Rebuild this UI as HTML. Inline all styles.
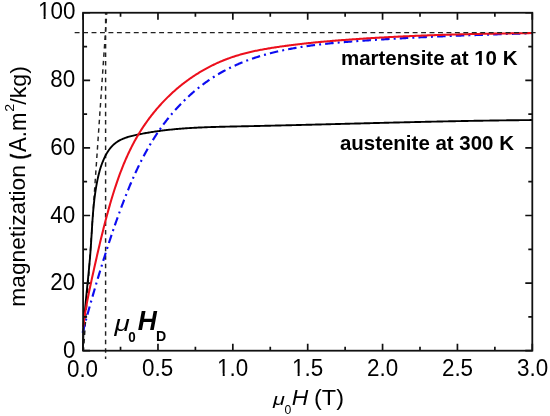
<!DOCTYPE html>
<html><head><meta charset="utf-8"><title>Magnetization curves</title><style>
html,body{margin:0;padding:0;background:#fff;}
body{width:550px;height:416px;position:relative;overflow:hidden;font-family:"Liberation Sans",Arial,sans-serif;color:#000;}
svg{position:absolute;left:0;top:0;}
#t div{position:absolute;left:0;top:0;line-height:1;white-space:nowrap;transform-origin:0 0;}
.o1{display:inline-block;clip-path:polygon(-1em -1em,2em -1em,2em 0.70em,0.34em 0.70em,0.34em 2em,0.251em 2em,0.251em 0.70em,-1em 0.70em)} .o1b{display:inline-block;clip-path:polygon(-1em -1em,2em -1em,2em 0.67em,0.3706em 0.67em,0.3706em 2em,0.2334em 2em,0.2334em 0.67em,-1em 0.67em)}
</style></head><body>
<div id="wrap" style="position:absolute;left:0;top:0;width:550px;height:416px;filter:blur(0.35px)">
<svg width="550" height="416" viewBox="0 0 550 416">
<g fill="none">
<path d="M105.6,12.75V359" stroke="#222" stroke-width="1.45" stroke-dasharray="4.5,3.947" stroke-dashoffset="2.487"/>
<path d="M106.8,12.75L83.5,350.7" stroke="#222" stroke-width="1.45" stroke-dasharray="4.5,3.947" stroke-dashoffset="2.487"/>
<path d="M83.05,350.69 83.05,349.63 83.05,348.58 83.06,347.53 83.07,346.47 83.08,345.42 83.10,344.36 83.12,343.31 83.14,342.25 83.17,341.20 83.20,340.14 83.23,339.09 83.26,338.04 83.30,336.98 83.34,335.93 83.38,334.87 83.43,333.82 83.47,332.77 83.52,331.71 83.58,330.66 83.63,329.60 83.69,328.55 83.75,327.50 83.81,326.44 83.87,325.39 83.94,324.34 84.01,323.28 84.08,322.23 84.15,321.17 84.22,320.12 84.30,319.07 84.37,318.01 84.45,316.96 84.53,315.91 84.62,314.85 84.70,313.80 84.79,312.75 84.87,311.69 84.96,310.64 85.05,309.59 85.14,308.53 85.23,307.48 85.33,306.43 85.42,305.37 85.52,304.32 85.61,303.27 85.71,302.21 85.81,301.16 85.91,300.11 86.01,299.06 86.11,298.00 86.21,296.95 86.31,295.90 86.42,294.84 86.52,293.79 86.62,292.74 86.73,291.68 86.83,290.63 86.94,289.58 87.04,288.53 87.15,287.47 87.25,286.42 87.36,285.37 87.46,284.32 87.57,283.26 87.67,282.21 87.78,281.16 87.89,280.10 87.99,279.05 88.10,278.00 88.20,276.95 88.30,275.89 88.41,274.84 88.51,273.79 88.61,272.74 88.72,271.68 88.82,270.63 88.92,269.58 89.02,268.53 89.12,267.47 89.22,266.42 89.31,265.37 89.41,264.32 89.50,263.26 89.60,262.21 89.69,261.16 89.78,260.11 89.87,259.06 89.96,258.00 90.05,256.95 90.14,255.90 90.22,254.85 90.31,253.79 90.39,252.74 90.47,251.69 90.55,250.64 90.63,249.58 90.70,248.53 90.78,247.48 90.85,246.43 90.92,245.38 90.99,244.32 91.06,243.27 91.12,242.22 91.19,241.17 91.26,240.11 91.32,239.06 91.39,238.01 91.45,236.96 91.51,235.91 91.58,234.86 91.64,233.80 91.70,232.75 91.77,231.70 91.83,230.65 91.90,229.60 91.96,228.55 92.02,227.50 92.09,226.45 92.16,225.40 92.22,224.35 92.29,223.29 92.36,222.24 92.43,221.19 92.50,220.14 92.58,219.09 92.65,218.05 92.73,217.00 92.81,215.95 92.89,214.90 92.97,213.85 93.06,212.80 93.14,211.75 93.23,210.70 93.32,209.66 93.42,208.61 93.52,207.56 93.62,206.51 93.72,205.47 93.82,204.42 93.93,203.37 94.05,202.33 94.16,201.28 94.28,200.23 94.40,199.19 94.53,198.14 94.66,197.10 94.80,196.05 94.93,195.01 95.08,193.96 95.22,192.92 95.38,191.88 95.53,190.83 95.69,189.79 95.86,188.75 96.03,187.71 96.20,186.66 96.38,185.62 96.57,184.58 96.76,183.54 96.95,182.50 97.16,181.46 97.36,180.42 97.58,179.38 97.80,178.34 98.03,177.31 98.26,176.27 98.51,175.24 98.76,174.21 99.02,173.18 99.29,172.15 99.57,171.12 99.86,170.10 100.16,169.08 100.47,168.06 100.79,167.05 101.13,166.04 101.48,165.04 101.84,164.03 102.21,163.04 102.60,162.04 103.00,161.05 103.41,160.07 103.84,159.09 104.29,158.12 104.75,157.15 105.22,156.19 105.71,155.24 106.22,154.30 106.75,153.38 107.30,152.46 107.86,151.57 108.44,150.69 109.04,149.83 109.66,148.98 110.30,148.16 110.95,147.37 111.63,146.59 112.33,145.85 113.06,145.13 113.80,144.43 114.56,143.77 115.35,143.14 116.16,142.54 116.99,141.97 117.83,141.43 118.70,140.91 119.58,140.42 120.48,139.95 121.40,139.51 122.33,139.08 123.27,138.68 124.23,138.30 125.20,137.94 126.18,137.60 127.17,137.27 128.17,136.95 129.18,136.66 130.20,136.37 131.23,136.10 132.26,135.84 133.29,135.59 134.33,135.35 135.38,135.11 136.42,134.89 137.47,134.67 138.52,134.45 139.56,134.24 140.61,134.03 141.66,133.83 142.71,133.63 143.76,133.43 144.81,133.24 145.86,133.05 146.91,132.87 147.96,132.69 149.01,132.51 150.05,132.34 151.10,132.17 152.15,132.00 153.21,131.84 154.26,131.68 155.31,131.53 156.36,131.37 157.41,131.22 158.46,131.08 159.51,130.94 160.56,130.80 161.61,130.66 162.66,130.53 163.72,130.40 164.77,130.27 165.82,130.15 166.87,130.03 167.92,129.91 168.98,129.80 170.03,129.68 171.08,129.58 172.13,129.47 173.19,129.37 174.24,129.26 175.29,129.17 176.34,129.07 177.40,128.98 178.45,128.89 179.50,128.80 180.56,128.71 181.61,128.63 182.67,128.55 183.72,128.47 184.77,128.39 185.83,128.32 186.88,128.24 187.94,128.17 188.99,128.11 190.04,128.04 191.10,127.97 192.15,127.91 193.21,127.85 194.26,127.79 195.32,127.74 196.37,127.68 197.43,127.63 198.48,127.57 199.54,127.52 200.59,127.48 201.65,127.43 202.70,127.38 203.76,127.34 204.81,127.29 205.87,127.25 206.93,127.21 207.98,127.17 209.04,127.14 210.09,127.10 211.15,127.06 212.20,127.03 213.26,127.00 214.32,126.96 215.37,126.93 216.43,126.90 217.48,126.87 218.54,126.84 219.60,126.81 220.65,126.79 221.71,126.76 222.76,126.73 223.82,126.71 224.88,126.68 225.93,126.66 226.99,126.63 228.04,126.61 229.10,126.59 230.16,126.57 231.21,126.54 232.27,126.52 233.33,126.50 234.38,126.48 235.44,126.45 236.50,126.43 237.55,126.41 238.61,126.39 239.67,126.37 240.72,126.35 241.78,126.32 242.83,126.30 243.89,126.28 244.95,126.26 246.00,126.24 247.06,126.21 248.12,126.19 249.17,126.17 250.23,126.14 251.29,126.12 252.34,126.10 253.40,126.08 254.45,126.05 255.51,126.03 256.57,126.01 257.62,125.98 258.68,125.96 259.74,125.93 260.79,125.91 261.85,125.89 262.91,125.86 263.96,125.84 265.02,125.81 266.07,125.79 267.13,125.77 268.19,125.74 269.24,125.72 270.30,125.69 271.36,125.67 272.41,125.64 273.47,125.62 274.53,125.59 275.58,125.57 276.64,125.54 277.69,125.52 278.75,125.49 279.81,125.47 280.86,125.44 281.92,125.42 282.98,125.39 284.03,125.37 285.09,125.34 286.15,125.31 287.20,125.29 288.26,125.26 289.31,125.24 290.37,125.21 291.43,125.19 292.48,125.16 293.54,125.13 294.60,125.11 295.65,125.08 296.71,125.05 297.77,125.03 298.82,125.00 299.88,124.98 300.93,124.95 301.99,124.92 303.05,124.90 304.10,124.87 305.16,124.84 306.22,124.82 307.27,124.79 308.33,124.76 309.38,124.74 310.44,124.71 311.50,124.68 312.55,124.66 313.61,124.63 314.67,124.60 315.72,124.57 316.78,124.55 317.84,124.52 318.89,124.49 319.95,124.47 321.00,124.44 322.06,124.41 323.12,124.38 324.17,124.36 325.23,124.33 326.29,124.30 327.34,124.28 328.40,124.25 329.46,124.22 330.51,124.19 331.57,124.17 332.62,124.14 333.68,124.11 334.74,124.08 335.79,124.06 336.85,124.03 337.91,124.00 338.96,123.97 340.02,123.95 341.07,123.92 342.13,123.89 343.19,123.86 344.24,123.84 345.30,123.81 346.36,123.78 347.41,123.75 348.47,123.73 349.53,123.70 350.58,123.67 351.64,123.64 352.69,123.62 353.75,123.59 354.81,123.56 355.86,123.54 356.92,123.51 357.98,123.48 359.03,123.45 360.09,123.43 361.15,123.40 362.20,123.37 363.26,123.34 364.31,123.32 365.37,123.29 366.43,123.26 367.48,123.24 368.54,123.21 369.60,123.18 370.65,123.15 371.71,123.13 372.77,123.10 373.82,123.07 374.88,123.05 375.93,123.02 376.99,122.99 378.05,122.96 379.10,122.94 380.16,122.91 381.22,122.88 382.27,122.86 383.33,122.83 384.39,122.80 385.44,122.78 386.50,122.75 387.55,122.72 388.61,122.70 389.67,122.67 390.72,122.65 391.78,122.62 392.84,122.59 393.89,122.57 394.95,122.54 396.01,122.51 397.06,122.49 398.12,122.46 399.17,122.44 400.23,122.41 401.29,122.39 402.34,122.36 403.40,122.33 404.46,122.31 405.51,122.28 406.57,122.26 407.63,122.23 408.68,122.21 409.74,122.18 410.80,122.16 411.85,122.13 412.91,122.11 413.96,122.08 415.02,122.06 416.08,122.03 417.13,122.01 418.19,121.98 419.25,121.96 420.30,121.93 421.36,121.91 422.42,121.89 423.47,121.86 424.53,121.84 425.59,121.81 426.64,121.79 427.70,121.76 428.75,121.74 429.81,121.72 430.87,121.69 431.92,121.67 432.98,121.65 434.04,121.62 435.09,121.60 436.15,121.58 437.21,121.55 438.26,121.53 439.32,121.51 440.38,121.49 441.43,121.46 442.49,121.44 443.55,121.42 444.60,121.40 445.66,121.37 446.71,121.35 447.77,121.33 448.83,121.31 449.88,121.29 450.94,121.27 452.00,121.24 453.05,121.22 454.11,121.20 455.17,121.18 456.22,121.16 457.28,121.14 458.34,121.12 459.39,121.10 460.45,121.08 461.51,121.06 462.56,121.04 463.62,121.02 464.68,121.00 465.73,120.98 466.79,120.96 467.85,120.94 468.90,120.92 469.96,120.90 471.02,120.88 472.07,120.86 473.13,120.84 474.19,120.82 475.24,120.81 476.30,120.79 477.36,120.77 478.41,120.75 479.47,120.73 480.52,120.71 481.58,120.70 482.64,120.68 483.69,120.66 484.75,120.65 485.81,120.63 486.86,120.61 487.92,120.59 488.98,120.58 490.03,120.56 491.09,120.55 492.15,120.53 493.20,120.51 494.26,120.50 495.32,120.48 496.37,120.47 497.43,120.45 498.49,120.44 499.54,120.42 500.60,120.41 501.66,120.39 502.71,120.38 503.77,120.36 504.83,120.35 505.88,120.34 506.94,120.32 508.00,120.31 509.05,120.30 510.11,120.28 511.17,120.27 512.23,120.26 513.28,120.24 514.34,120.23 515.40,120.22 516.45,120.21 517.51,120.20 518.57,120.18 519.62,120.17 520.68,120.16 521.74,120.15 522.79,120.14 523.85,120.13 524.91,120.12 525.96,120.11 527.02,120.10 528.08,120.09 529.13,120.08 530.19,120.07 531.25,120.06 532.30,120.05" stroke="#000" stroke-width="1.9"/>
<path d="M82.64,332.73 82.89,331.73 83.15,330.72 83.41,329.72 83.67,328.72 83.93,327.72 84.19,326.72 84.46,325.72 84.72,324.72 84.98,323.72 85.25,322.72 85.51,321.72 85.78,320.73 86.05,319.73 86.32,318.73 86.58,317.73 86.85,316.74 87.13,315.74 87.40,314.74 87.67,313.75 87.94,312.75 88.22,311.76 88.49,310.76 88.77,309.77 89.04,308.78 89.32,307.78 89.60,306.79 89.87,305.80 90.15,304.81 90.43,303.81 90.71,302.82 91.00,301.83 91.28,300.84 91.56,299.85 91.84,298.86 92.13,297.87 92.41,296.88 92.70,295.89 92.98,294.90 93.27,293.91 93.56,292.92 93.84,291.93 94.13,290.94 94.42,289.95 94.71,288.97 95.00,287.98 95.29,286.99 95.58,286.00 95.88,285.02 96.17,284.03 96.46,283.04 96.76,282.06 97.05,281.07 97.35,280.08 97.64,279.10 97.94,278.11 98.23,277.13 98.53,276.14 98.83,275.15 99.12,274.17 99.42,273.18 99.72,272.20 100.02,271.22 100.32,270.23 100.62,269.25 100.92,268.26 101.22,267.28 101.53,266.29 101.83,265.31 102.13,264.33 102.44,263.34 102.74,262.36 103.05,261.38 103.35,260.39 103.66,259.41 103.97,258.43 104.27,257.45 104.58,256.47 104.89,255.48 105.20,254.50 105.51,253.52 105.82,252.54 106.14,251.56 106.45,250.58 106.76,249.60 107.08,248.62 107.39,247.63 107.71,246.65 108.03,245.67 108.35,244.70 108.66,243.72 108.98,242.74 109.30,241.76 109.63,240.78 109.95,239.80 110.27,238.82 110.60,237.84 110.92,236.86 111.25,235.89 111.58,234.91 111.90,233.93 112.23,232.95 112.56,231.98 112.90,231.00 113.23,230.02 113.56,229.05 113.90,228.07 114.23,227.10 114.57,226.12 114.91,225.15 115.25,224.17 115.59,223.20 115.93,222.22 116.27,221.25 116.61,220.27 116.96,219.30 117.31,218.33 117.65,217.35 118.00,216.38 118.35,215.41 118.70,214.43 119.06,213.46 119.41,212.49 119.76,211.52 120.12,210.55 120.48,209.58 120.84,208.61 121.20,207.64 121.56,206.67 121.92,205.70 122.29,204.73 122.65,203.76 123.02,202.79 123.39,201.82 123.76,200.85 124.13,199.88 124.51,198.92 124.88,197.95 125.26,196.98 125.64,196.02 126.02,195.05 126.40,194.09 126.79,193.13 127.17,192.16 127.56,191.20 127.95,190.24 128.34,189.28 128.74,188.32 129.13,187.36 129.53,186.40 129.93,185.45 130.33,184.49 130.74,183.54 131.14,182.58 131.55,181.63 131.96,180.68 132.38,179.72 132.79,178.77 133.21,177.83 133.63,176.88 134.05,175.93 134.48,174.99 134.91,174.04 135.34,173.10 135.77,172.16 136.20,171.22 136.64,170.28 137.08,169.34 137.53,168.40 137.97,167.47 138.42,166.53 138.87,165.60 139.33,164.67 139.78,163.74 140.24,162.81 140.71,161.89 141.17,160.96 141.64,160.04 142.11,159.12 142.59,158.20 143.06,157.28 143.55,156.37 144.03,155.45 144.52,154.54 145.01,153.63 145.50,152.72 146.00,151.82 146.50,150.91 147.00,150.01 147.51,149.11 148.02,148.21 148.53,147.31 149.05,146.42 149.57,145.52 150.09,144.63 150.62,143.74 151.15,142.86 151.69,141.97 152.23,141.09 152.77,140.21 153.31,139.33 153.86,138.46 154.42,137.59 154.97,136.72 155.53,135.85 156.10,134.98 156.67,134.12 157.24,133.26 157.82,132.40 158.40,131.54 158.98,130.69 159.57,129.84 160.16,128.99 160.76,128.15 161.36,127.30 161.97,126.46 162.58,125.62 163.19,124.79 163.81,123.96 164.43,123.13 165.06,122.30 165.69,121.48 166.33,120.66 166.97,119.84 167.61,119.03 168.26,118.21 168.91,117.41 169.57,116.60 170.23,115.80 170.90,115.00 171.57,114.20 172.24,113.41 172.92,112.62 173.60,111.83 174.29,111.05 174.98,110.27 175.67,109.50 176.37,108.73 177.07,107.96 177.78,107.19 178.49,106.43 179.20,105.67 179.92,104.92 180.64,104.17 181.37,103.43 182.10,102.68 182.83,101.95 183.57,101.21 184.31,100.48 185.05,99.76 185.80,99.03 186.55,98.32 187.31,97.60 188.07,96.89 188.83,96.19 189.60,95.49 190.37,94.79 191.14,94.10 191.92,93.41 192.70,92.73 193.48,92.05 194.27,91.38 195.06,90.71 195.85,90.05 196.65,89.39 197.45,88.73 198.26,88.08 199.06,87.44 199.87,86.80 200.69,86.17 201.51,85.54 202.33,84.91 203.15,84.29 203.98,83.68 204.81,83.07 205.64,82.46 206.48,81.87 207.31,81.27 208.16,80.68 209.00,80.10 209.85,79.52 210.70,78.95 211.56,78.39 212.41,77.83 213.27,77.27 214.14,76.72 215.00,76.18 215.87,75.64 216.74,75.11 217.62,74.58 218.49,74.06 219.37,73.55 220.25,73.04 221.14,72.54 222.03,72.04 222.92,71.55 223.81,71.06 224.70,70.58 225.60,70.10 226.50,69.64 227.41,69.17 228.31,68.71 229.22,68.26 230.13,67.81 231.04,67.37 231.96,66.93 232.88,66.50 233.80,66.07 234.72,65.65 235.64,65.23 236.57,64.82 237.50,64.41 238.43,64.01 239.37,63.61 240.30,63.22 241.24,62.83 242.18,62.44 243.12,62.07 244.07,61.69 245.02,61.32 245.97,60.96 246.92,60.60 247.87,60.25 248.82,59.90 249.78,59.55 250.74,59.21 251.70,58.87 252.66,58.54 253.63,58.21 254.60,57.89 255.56,57.57 256.54,57.25 257.51,56.94 258.48,56.64 259.46,56.33 260.43,56.04 261.41,55.74 262.39,55.45 263.38,55.16 264.36,54.88 265.35,54.60 266.34,54.33 267.32,54.06 268.31,53.79 269.31,53.53 270.30,53.27 271.30,53.01 272.29,52.76 273.29,52.51 274.29,52.27 275.29,52.03 276.29,51.79 277.30,51.56 278.30,51.33 279.31,51.10 280.32,50.88 281.33,50.66 282.34,50.44 283.35,50.22 284.36,50.01 285.37,49.81 286.39,49.60 287.40,49.40 288.42,49.20 289.44,49.01 290.46,48.82 291.48,48.63 292.50,48.44 293.52,48.26 294.55,48.08 295.57,47.90 296.60,47.73 297.62,47.55 298.65,47.38 299.68,47.22 300.71,47.05 301.74,46.89 302.77,46.73 303.80,46.58 304.83,46.42 305.86,46.27 306.90,46.12 307.93,45.98 308.97,45.83 310.00,45.69 311.04,45.55 312.07,45.42 313.11,45.28 314.15,45.15 315.19,45.02 316.23,44.89 317.27,44.76 318.31,44.64 319.35,44.52 320.39,44.39 321.43,44.28 322.47,44.16 323.51,44.04 324.55,43.93 325.60,43.82 326.64,43.71 327.68,43.60 328.73,43.50 329.77,43.39 330.81,43.29 331.86,43.19 332.90,43.09 333.95,42.99 334.99,42.89 336.03,42.79 337.08,42.70 338.12,42.61 339.17,42.51 340.21,42.42 341.26,42.33 342.30,42.25 343.34,42.16 344.39,42.07 345.43,41.99 346.48,41.90 347.52,41.82 348.56,41.74 349.61,41.66 350.65,41.58 351.69,41.50 352.74,41.42 353.78,41.34 354.82,41.26 355.86,41.19 356.90,41.11 357.95,41.04 358.99,40.96 360.03,40.89 361.07,40.81 362.11,40.74 363.14,40.67 364.18,40.60 365.22,40.53 366.26,40.45 367.29,40.38 368.33,40.31 369.37,40.24 370.40,40.18 371.44,40.11 372.47,40.04 373.51,39.97 374.54,39.90 375.58,39.84 376.61,39.77 377.64,39.70 378.68,39.64 379.71,39.57 380.74,39.51 381.77,39.44 382.81,39.38 383.84,39.32 384.87,39.26 385.90,39.19 386.93,39.13 387.96,39.07 388.99,39.01 390.02,38.95 391.05,38.89 392.08,38.83 393.11,38.77 394.13,38.71 395.16,38.65 396.19,38.59 397.22,38.53 398.25,38.48 399.27,38.42 400.30,38.36 401.33,38.31 402.35,38.25 403.38,38.19 404.41,38.14 405.43,38.08 406.46,38.03 407.49,37.98 408.51,37.92 409.54,37.87 410.56,37.82 411.59,37.76 412.61,37.71 413.64,37.66 414.67,37.61 415.69,37.56 416.72,37.50 417.74,37.45 418.77,37.40 419.79,37.35 420.81,37.30 421.84,37.25 422.86,37.21 423.89,37.16 424.91,37.11 425.94,37.06 426.96,37.01 427.99,36.96 429.01,36.92 430.04,36.87 431.06,36.82 432.08,36.78 433.11,36.73 434.13,36.69 435.16,36.64 436.18,36.60 437.21,36.55 438.23,36.51 439.26,36.46 440.28,36.42 441.31,36.37 442.33,36.33 443.36,36.29 444.38,36.24 445.41,36.20 446.43,36.16 447.46,36.12 448.48,36.08 449.51,36.03 450.53,35.99 451.56,35.95 452.59,35.91 453.61,35.87 454.64,35.83 455.66,35.79 456.69,35.75 457.72,35.71 458.75,35.67 459.77,35.63 460.80,35.59 461.83,35.55 462.86,35.51 463.88,35.47 464.91,35.43 465.94,35.40 466.97,35.36 468.00,35.32 469.03,35.28 470.06,35.25 471.09,35.21 472.12,35.17 473.15,35.13 474.18,35.10 475.21,35.06 476.24,35.02 477.27,34.99 478.31,34.95 479.34,34.92 480.37,34.88 481.40,34.84 482.44,34.81 483.47,34.77 484.50,34.74 485.54,34.70 486.57,34.67 487.61,34.63 488.64,34.60 489.68,34.56 490.72,34.53 491.75,34.49 492.79,34.46 493.83,34.43 494.87,34.39 495.90,34.36 496.94,34.32 497.98,34.29 499.02,34.26 500.06,34.22 501.10,34.19 502.14,34.16 503.19,34.12 504.23,34.09 505.27,34.06 506.31,34.02 507.36,33.99 508.40,33.96 509.45,33.93 510.49,33.89 511.54,33.86 512.58,33.83 513.63,33.79 514.68,33.76 515.72,33.73 516.77,33.70 517.82,33.67 518.87,33.63 519.92,33.60 520.97,33.57 522.02,33.54 523.08,33.50 524.13,33.47 525.18,33.44 526.24,33.41 527.29,33.38 528.35,33.34 529.40,33.31 530.46,33.28 531.52,33.25 532.30,33.22" stroke="#0c0cf0" stroke-width="2.15" stroke-dasharray="8.5,4.1,2,4.1"/>
<path d="M83.25,326.96 83.37,325.92 83.50,324.88 83.63,323.84 83.76,322.80 83.90,321.77 84.04,320.73 84.18,319.69 84.33,318.66 84.48,317.62 84.63,316.58 84.79,315.55 84.94,314.52 85.11,313.48 85.27,312.45 85.44,311.42 85.61,310.39 85.78,309.36 85.96,308.32 86.14,307.29 86.32,306.26 86.50,305.24 86.68,304.21 86.87,303.18 87.06,302.15 87.25,301.12 87.45,300.10 87.64,299.07 87.84,298.04 88.04,297.02 88.24,295.99 88.45,294.96 88.65,293.94 88.86,292.91 89.07,291.89 89.28,290.87 89.49,289.84 89.70,288.82 89.92,287.79 90.14,286.77 90.35,285.75 90.57,284.72 90.79,283.70 91.01,282.68 91.23,281.66 91.45,280.63 91.68,279.61 91.90,278.59 92.12,277.57 92.35,276.55 92.58,275.52 92.80,274.50 93.03,273.48 93.26,272.46 93.48,271.44 93.71,270.42 93.94,269.39 94.17,268.37 94.40,267.35 94.63,266.33 94.85,265.31 95.08,264.29 95.31,263.27 95.54,262.25 95.77,261.22 96.00,260.20 96.24,259.18 96.47,258.16 96.70,257.14 96.93,256.12 97.17,255.10 97.40,254.08 97.63,253.06 97.87,252.04 98.10,251.02 98.34,250.00 98.58,248.98 98.81,247.96 99.05,246.94 99.29,245.92 99.53,244.90 99.77,243.88 100.01,242.86 100.25,241.84 100.50,240.82 100.74,239.80 100.99,238.79 101.23,237.77 101.48,236.75 101.73,235.73 101.97,234.71 102.22,233.70 102.47,232.68 102.73,231.66 102.98,230.65 103.23,229.63 103.49,228.62 103.74,227.60 104.00,226.59 104.26,225.57 104.52,224.56 104.78,223.54 105.04,222.53 105.31,221.51 105.57,220.50 105.84,219.49 106.11,218.48 106.38,217.46 106.65,216.45 106.92,215.44 107.19,214.43 107.47,213.42 107.75,212.41 108.02,211.40 108.30,210.39 108.58,209.38 108.87,208.37 109.15,207.36 109.44,206.35 109.73,205.35 110.02,204.34 110.31,203.33 110.60,202.33 110.90,201.32 111.19,200.32 111.49,199.31 111.79,198.31 112.10,197.30 112.40,196.30 112.71,195.30 113.02,194.30 113.33,193.29 113.64,192.29 113.96,191.29 114.27,190.30 114.59,189.30 114.92,188.30 115.24,187.30 115.57,186.31 115.90,185.31 116.23,184.32 116.56,183.33 116.90,182.33 117.24,181.34 117.59,180.35 117.93,179.37 118.28,178.38 118.63,177.39 118.99,176.41 119.34,175.42 119.70,174.44 120.07,173.46 120.44,172.48 120.81,171.50 121.18,170.52 121.56,169.55 121.94,168.57 122.32,167.60 122.71,166.63 123.10,165.66 123.49,164.69 123.89,163.73 124.29,162.76 124.69,161.80 125.10,160.84 125.51,159.88 125.93,158.92 126.35,157.97 126.78,157.01 127.20,156.06 127.64,155.11 128.07,154.16 128.51,153.22 128.96,152.27 129.40,151.33 129.86,150.39 130.32,149.45 130.78,148.52 131.24,147.58 131.71,146.65 132.19,145.72 132.67,144.80 133.15,143.87 133.64,142.95 134.13,142.03 134.63,141.11 135.14,140.20 135.64,139.29 136.16,138.38 136.68,137.47 137.20,136.56 137.73,135.66 138.26,134.76 138.80,133.87 139.34,132.97 139.89,132.08 140.44,131.19 141.00,130.31 141.57,129.42 142.13,128.54 142.71,127.67 143.29,126.79 143.87,125.92 144.46,125.05 145.05,124.19 145.65,123.33 146.26,122.47 146.86,121.61 147.48,120.76 148.10,119.91 148.72,119.07 149.35,118.22 149.98,117.38 150.61,116.55 151.26,115.72 151.90,114.89 152.55,114.06 153.21,113.24 153.87,112.43 154.54,111.61 155.21,110.80 155.88,109.99 156.56,109.19 157.24,108.39 157.93,107.60 158.62,106.81 159.32,106.02 160.02,105.24 160.73,104.46 161.44,103.68 162.15,102.91 162.87,102.14 163.59,101.38 164.32,100.62 165.05,99.87 165.79,99.12 166.53,98.37 167.27,97.63 168.02,96.89 168.78,96.16 169.53,95.43 170.30,94.71 171.06,93.99 171.83,93.27 172.60,92.56 173.38,91.86 174.16,91.16 174.95,90.46 175.74,89.77 176.53,89.08 177.33,88.40 178.13,87.72 178.94,87.05 179.75,86.38 180.56,85.72 181.38,85.06 182.20,84.41 183.03,83.77 183.86,83.12 184.69,82.49 185.53,81.86 186.37,81.23 187.21,80.61 188.06,79.99 188.91,79.38 189.76,78.78 190.62,78.18 191.48,77.58 192.35,76.99 193.21,76.41 194.09,75.83 194.96,75.25 195.84,74.69 196.72,74.12 197.61,73.57 198.50,73.02 199.39,72.47 200.28,71.93 201.18,71.40 202.08,70.87 202.99,70.34 203.89,69.83 204.80,69.31 205.72,68.81 206.63,68.31 207.55,67.81 208.48,67.32 209.40,66.84 210.33,66.36 211.26,65.89 212.20,65.43 213.13,64.97 214.07,64.51 215.01,64.07 215.96,63.62 216.91,63.19 217.86,62.76 218.81,62.34 219.77,61.92 220.72,61.51 221.68,61.10 222.65,60.71 223.61,60.31 224.58,59.93 225.55,59.55 226.53,59.17 227.50,58.81 228.48,58.45 229.46,58.09 230.44,57.74 231.43,57.40 232.41,57.07 233.40,56.74 234.39,56.42 235.38,56.10 236.38,55.79 237.38,55.48 238.38,55.18 239.38,54.89 240.38,54.60 241.38,54.32 242.39,54.04 243.40,53.77 244.41,53.50 245.42,53.24 246.43,52.98 247.45,52.73 248.46,52.48 249.48,52.24 250.50,52.00 251.52,51.76 252.54,51.53 253.56,51.31 254.59,51.09 255.61,50.87 256.64,50.66 257.66,50.45 258.69,50.24 259.72,50.04 260.75,49.84 261.78,49.64 262.81,49.45 263.85,49.26 264.88,49.08 265.91,48.89 266.95,48.72 267.99,48.54 269.02,48.37 270.06,48.19 271.10,48.03 272.13,47.86 273.17,47.70 274.21,47.53 275.25,47.38 276.29,47.22 277.33,47.06 278.37,46.91 279.41,46.76 280.45,46.61 281.49,46.46 282.53,46.31 283.57,46.17 284.61,46.03 285.65,45.88 286.69,45.74 287.73,45.61 288.77,45.47 289.81,45.33 290.85,45.20 291.89,45.07 292.93,44.93 293.97,44.81 295.01,44.68 296.05,44.55 297.09,44.42 298.14,44.30 299.18,44.18 300.22,44.06 301.26,43.94 302.30,43.82 303.34,43.70 304.38,43.58 305.43,43.47 306.47,43.36 307.51,43.24 308.55,43.13 309.59,43.02 310.64,42.91 311.68,42.81 312.72,42.70 313.76,42.60 314.80,42.49 315.85,42.39 316.89,42.29 317.93,42.19 318.97,42.09 320.02,41.99 321.06,41.89 322.10,41.79 323.15,41.70 324.19,41.60 325.23,41.51 326.27,41.42 327.32,41.33 328.36,41.24 329.40,41.15 330.45,41.06 331.49,40.97 332.53,40.88 333.58,40.79 334.62,40.71 335.66,40.62 336.71,40.54 337.75,40.46 338.79,40.37 339.84,40.29 340.88,40.21 341.92,40.13 342.97,40.05 344.01,39.97 345.06,39.90 346.10,39.82 347.14,39.74 348.19,39.66 349.23,39.59 350.27,39.51 351.32,39.44 352.36,39.37 353.41,39.29 354.45,39.22 355.50,39.15 356.54,39.08 357.58,39.00 358.63,38.93 359.67,38.86 360.72,38.79 361.76,38.73 362.81,38.66 363.85,38.59 364.89,38.52 365.94,38.46 366.98,38.39 368.03,38.32 369.07,38.26 370.12,38.19 371.16,38.13 372.21,38.07 373.25,38.00 374.30,37.94 375.34,37.88 376.39,37.82 377.43,37.76 378.48,37.70 379.52,37.64 380.57,37.58 381.61,37.52 382.66,37.46 383.70,37.40 384.75,37.35 385.79,37.29 386.84,37.23 387.88,37.18 388.93,37.12 389.97,37.07 391.02,37.01 392.06,36.96 393.11,36.90 394.15,36.85 395.20,36.80 396.24,36.75 397.29,36.69 398.33,36.64 399.38,36.59 400.42,36.54 401.47,36.49 402.52,36.44 403.56,36.39 404.61,36.35 405.65,36.30 406.70,36.25 407.74,36.20 408.79,36.16 409.84,36.11 410.88,36.07 411.93,36.02 412.97,35.98 414.02,35.93 415.06,35.89 416.11,35.84 417.16,35.80 418.20,35.76 419.25,35.72 420.29,35.67 421.34,35.63 422.39,35.59 423.43,35.55 424.48,35.51 425.52,35.47 426.57,35.43 427.62,35.39 428.66,35.35 429.71,35.31 430.76,35.28 431.80,35.24 432.85,35.20 433.89,35.17 434.94,35.13 435.99,35.09 437.03,35.06 438.08,35.02 439.13,34.99 440.17,34.95 441.22,34.92 442.27,34.89 443.31,34.85 444.36,34.82 445.40,34.79 446.45,34.75 447.50,34.72 448.54,34.69 449.59,34.66 450.64,34.63 451.68,34.60 452.73,34.57 453.78,34.54 454.82,34.51 455.87,34.48 456.92,34.45 457.96,34.42 459.01,34.39 460.06,34.36 461.10,34.34 462.15,34.31 463.20,34.28 464.24,34.26 465.29,34.23 466.34,34.20 467.38,34.18 468.43,34.15 469.48,34.13 470.52,34.10 471.57,34.08 472.62,34.05 473.67,34.03 474.71,34.01 475.76,33.98 476.81,33.96 477.85,33.94 478.90,33.91 479.95,33.89 480.99,33.87 482.04,33.85 483.09,33.83 484.14,33.81 485.18,33.78 486.23,33.76 487.28,33.74 488.32,33.72 489.37,33.70 490.42,33.68 491.46,33.66 492.51,33.65 493.56,33.63 494.61,33.61 495.65,33.59 496.70,33.57 497.75,33.55 498.79,33.54 499.84,33.52 500.89,33.50 501.94,33.48 502.98,33.47 504.03,33.45 505.08,33.43 506.12,33.42 507.17,33.40 508.22,33.39 509.27,33.37 510.31,33.36 511.36,33.34 512.41,33.33 513.45,33.31 514.50,33.30 515.55,33.28 516.60,33.27 517.64,33.25 518.69,33.24 519.74,33.23 520.78,33.21 521.83,33.20 522.88,33.19 523.93,33.17 524.97,33.16 526.02,33.15 527.07,33.14 528.12,33.12 529.16,33.11 530.21,33.10 531.26,33.09 532.30,33.08" stroke="#ec0f1c" stroke-width="2.05"/>
<path d="M74.65,32.6H535.6" stroke="#222" stroke-width="1.45" stroke-dasharray="4.9,3.55"/>
<path d="M83.10,350.70v-7M83.10,12.75v7M120.53,350.70v-4M120.53,12.75v4M157.97,350.70v-7M157.97,12.75v7M195.40,350.70v-4M195.40,12.75v4M232.83,350.70v-7M232.83,12.75v7M270.27,350.70v-4M270.27,12.75v4M307.70,350.70v-7M307.70,12.75v7M345.13,350.70v-4M345.13,12.75v4M382.57,350.70v-7M382.57,12.75v7M420.00,350.70v-4M420.00,12.75v4M457.43,350.70v-7M457.43,12.75v7M494.87,350.70v-4M494.87,12.75v4M532.30,350.70v-7M532.30,12.75v7M83.10,350.70h7M532.30,350.70h-7M83.10,316.90h4M532.30,316.90h-4M83.10,283.11h7M532.30,283.11h-7M83.10,249.31h4M532.30,249.31h-4M83.10,215.52h7M532.30,215.52h-7M83.10,181.72h4M532.30,181.72h-4M83.10,147.93h7M532.30,147.93h-7M83.10,114.13h4M532.30,114.13h-4M83.10,80.34h7M532.30,80.34h-7M83.10,46.55h4M532.30,46.55h-4M83.10,12.75h7M532.30,12.75h-7" stroke="#111" stroke-width="1.7"/>
<rect x="83.1" y="12.75" width="449.20" height="337.95" stroke="#111" stroke-width="1.8"/>
</g>
</svg>
<div id="t">
<div style="font-size:22px;transform:matrix(1.02,0,0,1.1,37.98,-0.375)"><span class="o1">1</span>00</div>
<div style="font-size:22px;transform:matrix(1.02,0,0,1.1,50.32,67.3)">80</div>
<div style="font-size:22px;transform:matrix(1.02,0,0,1.1,50.32,135.1)">60</div>
<div style="font-size:22px;transform:matrix(1.02,0,0,1.1,50.32,202.8)">40</div>
<div style="font-size:22px;transform:matrix(1.02,0,0,1.1,50.32,270.65)">20</div>
<div style="font-size:22px;transform:matrix(1.02,0,0,1.1,62.96,338.2)">0</div>
<div style="font-size:22px;transform:matrix(1.02,0,0,1.1,66.9,356.75)">0.0</div>
<div style="font-size:22px;transform:matrix(1.02,0,0,1.1,142.1,356.65)">0.5</div>
<div style="font-size:22px;transform:matrix(1.02,0,0,1.1,217.1,356.65)"><span class="o1">1</span>.0</div>
<div style="font-size:22px;transform:matrix(1.02,0,0,1.1,292,356.65)"><span class="o1">1</span>.5</div>
<div style="font-size:22px;transform:matrix(1.02,0,0,1.1,367,356.65)">2.0</div>
<div style="font-size:22px;transform:matrix(1.02,0,0,1.1,441.9,356.65)">2.5</div>
<div style="font-size:22px;transform:matrix(1.02,0,0,1.1,517.1,356.65)">3.0</div>
<div style="font-size:21px;font-weight:bold;transform:matrix(0.9756,0,0,1,340.9244,46.9)">martensite at <span class="o1b">1</span>0 K</div>
<div style="font-size:21px;font-weight:bold;transform:matrix(0.9747,0,0,1,339.9,131.6)">austenite at 300 K</div>
<div style="font-size:22px;font-style:italic;transform:matrix(0.9846,0,0,0.7559,273.0846,391.3647)">&mu;</div>
<div style="font-size:14px;transform:matrix(0.8714,0,0,0.965,284.4,402.17)">0</div>
<div style="font-size:22px;font-style:italic;transform:matrix(1.04,0,0,1.04,291.66,385.78)">H</div>
<div style="font-size:22px;transform:matrix(1.0654,0,0,1.0381,314.0346,386.0238)">(T)</div>
<div style="font-size:24px;font-style:italic;transform:matrix(1.1643,0,0,0.9389,114.4643,312.3278)">&mu;</div>
<div style="font-size:14px;font-weight:bold;transform:matrix(0.9571,0,0,1.01,128.2,329.38)">0</div>
<div style="font-size:26px;font-weight:bold;font-style:italic;transform:matrix(1.0158,0,0,1.0694,137.8,306.9722)">H</div>
<div style="font-size:14px;font-weight:bold;transform:matrix(1.0111,0,0,1.06,156.0889,328.38)">D</div>
<div style="font-size:22px;transform:matrix(0,-1.0326,0.9905,0,7.519,306.6326)">magnetization</div>
<div style="font-size:22px;font-weight:bold;-webkit-text-stroke:0.45px #000;transform:matrix(0,-0.7429,0.9952,0,7.7095,159.3429)">(</div>
<div style="font-size:22px;transform:matrix(0,-1.0026,1.0867,0,6.44,151.9)">A.m</div>
<div style="font-size:14px;transform:matrix(0,-1.0143,0.97,0,1.86,111.8)">2</div>
<div style="font-size:22px;transform:matrix(0,-1.0543,0.9905,0,7.819,104.7)">/kg)</div>
</div>
</div>
</body></html>
